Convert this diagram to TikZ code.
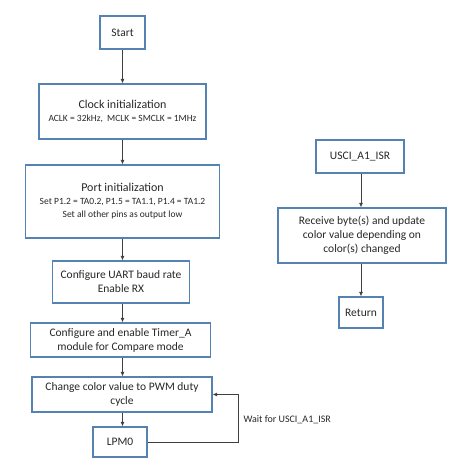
\documentclass[tikz,border=0pt]{standalone}
\usepackage{fontspec}
\setmainfont{Carlito}
\usetikzlibrary{arrows.meta}
\definecolor{FlowBorder}{RGB}{84,130,178}
\definecolor{FlowText}{RGB}{40,40,40}

\tikzset{
  flowbox/.style={draw=FlowBorder, line width=1.3pt, fill=white, text=FlowText,
    align=center, inner sep=2pt, font=\fontsize{11.5}{14}\selectfont},
  flowarrow/.style={-{Latex[length=4.5pt,width=4pt]}, draw=black!75, line width=0.6pt},
  subline/.style={font=\fontsize{9.5}{11.5}\selectfont}
}

\begin{document}
\begin{tikzpicture}[x=1pt, y=-1pt]
    % Canvas
    \useasboundingbox (0,0) rectangle (474,474);
    \fill[white] (0,0) rectangle (474,474);

    % Main program
    \node[flowbox, minimum width=45pt, minimum height=33pt] (start) at (122.5,32.5) {Start};
    \node[flowbox, minimum width=167pt, minimum height=55pt] (clock) at (122.5,111.5)
      {{\fontsize{12}{14}\selectfont Clock initialization}\\[-1pt]
       {\fontsize{9.5}{11.5}\selectfont ACLK = 32kHz,\ \ MCLK = SMCLK = 1MHz}};
    \node[flowbox, minimum width=194pt, minimum height=73pt] (port) at (122.5,201.5)
      {{\fontsize{12}{14}\selectfont Port initialization}\\[-1pt]
       {\fontsize{9.5}{11.5}\selectfont Set P1.2 = TA0.2, P1.5 = TA1.1, P1.4 = TA1.2}\\[-1pt]
       {\fontsize{9.5}{11.5}\selectfont Set all other pins as output low}};
    \node[flowbox, minimum width=137pt, minimum height=42pt] (uart) at (121,282)
      {Configure UART baud rate\\Enable RX};
    \node[flowbox, minimum width=180pt, minimum height=34pt] (timer) at (120.5,340)
      {Configure and enable Timer\_A\\module for Compare mode};
    \node[flowbox, minimum width=180pt, minimum height=35pt] (change) at (122,394.5)
      {Change color value to PWM duty\\cycle};
    \node[flowbox, minimum width=54pt, minimum height=30pt] (lpm) at (120,442) {LPM0};

    \draw[flowarrow] (start) -- (clock);
    \draw[flowarrow] (clock) -- (port);
    \draw[flowarrow] (port.south -| start) -- (uart.north -| start);
    \draw[flowarrow] (uart.south -| start) -- (timer.north -| start);
    \draw[flowarrow] (timer.south -| start) -- (change.north -| start);
    \draw[flowarrow] (change.south -| start) -- (lpm.north -| start);

    % Loop back while waiting
    \coordinate (bend) at (238,394.5);
    \draw[flowarrow] (lpm.east) -| (bend) -- (change.east);
    \node[font=\fontsize{10}{12}\selectfont, text=FlowText, anchor=west] (wait) at (240,420) {Wait for USCI\_A1\_ISR};

    % Interrupt routine
    \node[flowbox, minimum width=88pt, minimum height=33pt] (isr) at (360,156.5) {USCI\_A1\_ISR};
    \node[flowbox, minimum width=168pt, minimum height=55pt] (receive) at (362,235.5)
      {Receive byte(s) and update\\color value depending on\\color(s) changed};
    \node[flowbox, minimum width=44pt, minimum height=31pt] (ret) at (361,312.5) {Return};

    \draw[flowarrow] (isr.south -| ret) -- (receive.north -| ret);
    \draw[flowarrow] (receive.south -| ret) -- (ret);
\end{tikzpicture}
\end{document}
